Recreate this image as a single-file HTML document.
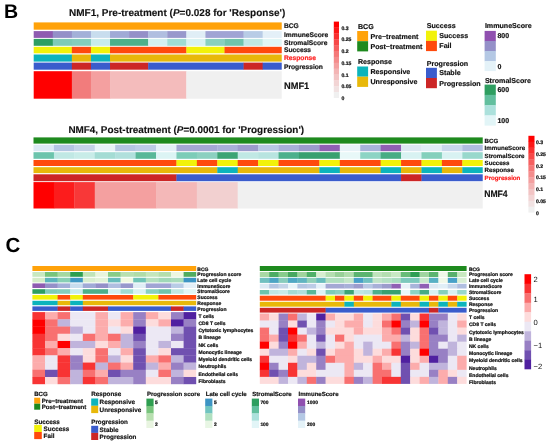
<!DOCTYPE html>
<html><head><meta charset="utf-8"><title>Figure</title>
<style>
html,body{margin:0;padding:0;background:#fff;}
body{width:550px;height:445px;overflow:hidden;}
svg{display:block;font-family:"Liberation Sans",sans-serif;}
</style></head><body>
<svg width="550" height="445" viewBox="0 0 550 445" text-rendering="geometricPrecision">
<rect x="0" y="0" width="550" height="445" fill="#ffffff"/>
<text x="3.90" y="17.80" font-size="19.6" font-weight="bold" fill="#000" text-anchor="start">B</text>
<text x="69.00" y="15.50" font-size="10.0" font-weight="bold" fill="#111111" text-anchor="start" stroke="#111111" stroke-width="0.12">NMF1, Pre-treatment (<tspan font-style="italic">P</tspan>=0.028 for 'Response')</text>
<rect x="33.70" y="22.40" width="248.04" height="7.30" fill="#FFA20A"/>
<rect x="33.70" y="31.10" width="19.38" height="6.80" fill="#8E5BB0"/>
<rect x="52.78" y="31.10" width="19.38" height="6.80" fill="#9490C8"/>
<rect x="71.86" y="31.10" width="19.38" height="6.80" fill="#A3B0D8"/>
<rect x="90.94" y="31.10" width="19.38" height="6.80" fill="#C8DDEE"/>
<rect x="110.02" y="31.10" width="19.38" height="6.80" fill="#A0AAD6"/>
<rect x="129.10" y="31.10" width="19.38" height="6.80" fill="#9490C8"/>
<rect x="148.18" y="31.10" width="19.38" height="6.80" fill="#B0BEE0"/>
<rect x="167.26" y="31.10" width="19.38" height="6.80" fill="#9898CC"/>
<rect x="186.34" y="31.10" width="19.38" height="6.80" fill="#E0EEF6"/>
<rect x="205.42" y="31.10" width="38.46" height="6.80" fill="#A0A4D4"/>
<rect x="243.58" y="31.10" width="19.38" height="6.80" fill="#B8CCE6"/>
<rect x="262.66" y="31.10" width="19.08" height="6.80" fill="#E4F0F8"/>
<rect x="33.70" y="38.90" width="19.38" height="6.90" fill="#2E9E62"/>
<rect x="52.78" y="38.90" width="19.38" height="6.90" fill="#7FCBB8"/>
<rect x="71.86" y="38.90" width="19.38" height="6.90" fill="#84CEBC"/>
<rect x="90.94" y="38.90" width="19.38" height="6.90" fill="#C8ECEC"/>
<rect x="110.02" y="38.90" width="38.46" height="6.90" fill="#4DB08A"/>
<rect x="148.18" y="38.90" width="19.38" height="6.90" fill="#D4F0F0"/>
<rect x="167.26" y="38.90" width="19.38" height="6.90" fill="#A0DCD4"/>
<rect x="186.34" y="38.90" width="19.38" height="6.90" fill="#D8F2F2"/>
<rect x="205.42" y="38.90" width="19.38" height="6.90" fill="#88D0C0"/>
<rect x="224.50" y="38.90" width="19.38" height="6.90" fill="#70C4AC"/>
<rect x="243.58" y="38.90" width="19.38" height="6.90" fill="#C0E8E4"/>
<rect x="262.66" y="38.90" width="19.08" height="6.90" fill="#E0F6F6"/>
<rect x="33.70" y="46.80" width="38.46" height="6.50" fill="#F2F20A"/>
<rect x="71.86" y="46.80" width="19.38" height="6.50" fill="#FF4A0C"/>
<rect x="90.94" y="46.80" width="19.38" height="6.50" fill="#F2F20A"/>
<rect x="110.02" y="46.80" width="76.62" height="6.50" fill="#FF4A0C"/>
<rect x="186.34" y="46.80" width="38.46" height="6.50" fill="#F2F20A"/>
<rect x="224.50" y="46.80" width="57.24" height="6.50" fill="#FF4A0C"/>
<rect x="33.70" y="54.50" width="38.46" height="7.10" fill="#0CB4BC"/>
<rect x="71.86" y="54.50" width="19.38" height="7.10" fill="#E8B80A"/>
<rect x="90.94" y="54.50" width="19.38" height="7.10" fill="#0CB4BC"/>
<rect x="110.02" y="54.50" width="171.72" height="7.10" fill="#E8B80A"/>
<rect x="33.70" y="62.60" width="38.46" height="7.10" fill="#3A5CCC"/>
<rect x="71.86" y="62.60" width="19.38" height="7.10" fill="#CC2626"/>
<rect x="90.94" y="62.60" width="19.38" height="7.10" fill="#3A5CCC"/>
<rect x="110.02" y="62.60" width="38.46" height="7.10" fill="#CC2626"/>
<rect x="148.18" y="62.60" width="95.70" height="7.10" fill="#3A5CCC"/>
<rect x="243.58" y="62.60" width="19.38" height="7.10" fill="#CC2626"/>
<rect x="262.66" y="62.60" width="19.08" height="7.10" fill="#3A5CCC"/>
<rect x="33.70" y="71.20" width="38.46" height="27.50" fill="#FF0000"/>
<rect x="71.86" y="71.20" width="19.38" height="27.50" fill="#F27C7C"/>
<rect x="90.94" y="71.20" width="19.38" height="27.50" fill="#F4A0A0"/>
<rect x="110.02" y="71.20" width="76.62" height="27.50" fill="#F4BCBC"/>
<rect x="186.34" y="71.20" width="95.40" height="27.50" fill="#F0F0F0"/>
<text x="283.94" y="28.45" font-size="6.7" font-weight="bold" fill="#111111" text-anchor="start" stroke="#111111" stroke-width="0.18">BCG</text>
<text x="283.94" y="36.90" font-size="6.7" font-weight="bold" fill="#111111" text-anchor="start" stroke="#111111" stroke-width="0.18">ImmuneScore</text>
<text x="283.94" y="44.75" font-size="6.7" font-weight="bold" fill="#111111" text-anchor="start" stroke="#111111" stroke-width="0.18">StromalScore</text>
<text x="283.94" y="52.45" font-size="6.7" font-weight="bold" fill="#111111" text-anchor="start" stroke="#111111" stroke-width="0.18">Success</text>
<text x="283.94" y="60.45" font-size="6.7" font-weight="bold" fill="#ff1a1a" text-anchor="start" stroke="#ff1a1a" stroke-width="0.18">Response</text>
<text x="283.94" y="68.55" font-size="6.7" font-weight="bold" fill="#111111" text-anchor="start" stroke="#111111" stroke-width="0.18">Progression</text>
<text x="283.94" y="89.30" font-size="9.3" font-weight="bold" fill="#111111" text-anchor="start" stroke="#111111" stroke-width="0.12">NMF1</text>
<rect x="333.80" y="21.60" width="5.20" height="6.18" fill="#FF0000"/>
<rect x="333.80" y="27.48" width="5.20" height="6.18" fill="#FB1818"/>
<rect x="333.80" y="33.35" width="5.20" height="6.18" fill="#F93030"/>
<rect x="333.80" y="39.23" width="5.20" height="6.18" fill="#F74848"/>
<rect x="333.80" y="45.11" width="5.20" height="6.18" fill="#F66060"/>
<rect x="333.80" y="50.98" width="5.20" height="6.18" fill="#F57878"/>
<rect x="333.80" y="56.86" width="5.20" height="6.18" fill="#F48C8C"/>
<rect x="333.80" y="62.74" width="5.20" height="6.18" fill="#F4A0A0"/>
<rect x="333.80" y="68.62" width="5.20" height="6.18" fill="#F3B4B4"/>
<rect x="333.80" y="74.49" width="5.20" height="6.18" fill="#F2C4C4"/>
<rect x="333.80" y="80.37" width="5.20" height="6.18" fill="#F2D4D4"/>
<rect x="333.80" y="86.25" width="5.20" height="6.18" fill="#F1E2E2"/>
<rect x="333.80" y="92.12" width="5.20" height="5.88" fill="#F0F0F0"/>
<text x="341.50" y="29.70" font-size="5.1" font-weight="bold" fill="#111111" text-anchor="start" stroke="#111111" stroke-width="0.22">0.3</text>
<text x="341.50" y="41.45" font-size="5.1" font-weight="bold" fill="#111111" text-anchor="start" stroke="#111111" stroke-width="0.22">0.25</text>
<text x="341.50" y="53.20" font-size="5.1" font-weight="bold" fill="#111111" text-anchor="start" stroke="#111111" stroke-width="0.22">0.2</text>
<text x="341.50" y="64.95" font-size="5.1" font-weight="bold" fill="#111111" text-anchor="start" stroke="#111111" stroke-width="0.22">0.15</text>
<text x="341.50" y="76.70" font-size="5.1" font-weight="bold" fill="#111111" text-anchor="start" stroke="#111111" stroke-width="0.22">0.1</text>
<text x="341.50" y="88.45" font-size="5.1" font-weight="bold" fill="#111111" text-anchor="start" stroke="#111111" stroke-width="0.22">0.05</text>
<text x="341.50" y="100.20" font-size="5.1" font-weight="bold" fill="#111111" text-anchor="start" stroke="#111111" stroke-width="0.22">0</text>
<text x="358.00" y="28.70" font-size="7.1" font-weight="bold" fill="#111111" text-anchor="start" stroke="#111111" stroke-width="0.18">BCG</text>
<rect x="357.20" y="31.00" width="10.90" height="10.20" fill="#FFA20A"/>
<text x="370.50" y="38.55" font-size="7.1" font-weight="bold" fill="#111111" text-anchor="start" stroke="#111111" stroke-width="0.18">Pre−treatment</text>
<rect x="357.20" y="41.20" width="10.90" height="10.20" fill="#1E8A1E"/>
<text x="370.50" y="48.75" font-size="7.1" font-weight="bold" fill="#111111" text-anchor="start" stroke="#111111" stroke-width="0.18">Post−treatment</text>
<text x="358.00" y="64.20" font-size="7.1" font-weight="bold" fill="#111111" text-anchor="start" stroke="#111111" stroke-width="0.18">Response</text>
<rect x="357.20" y="66.50" width="10.90" height="10.20" fill="#0CB4BC"/>
<text x="370.50" y="74.05" font-size="7.1" font-weight="bold" fill="#111111" text-anchor="start" stroke="#111111" stroke-width="0.18">Responsive</text>
<rect x="357.20" y="76.70" width="10.90" height="10.20" fill="#E8B80A"/>
<text x="370.50" y="84.25" font-size="7.1" font-weight="bold" fill="#111111" text-anchor="start" stroke="#111111" stroke-width="0.18">Unresponsive</text>
<text x="426.80" y="28.40" font-size="7.1" font-weight="bold" fill="#111111" text-anchor="start" stroke="#111111" stroke-width="0.18">Success</text>
<rect x="426.00" y="30.70" width="10.90" height="10.20" fill="#F2F20A"/>
<text x="439.30" y="38.25" font-size="7.1" font-weight="bold" fill="#111111" text-anchor="start" stroke="#111111" stroke-width="0.18">Success</text>
<rect x="426.00" y="40.90" width="10.90" height="10.20" fill="#FF4A0C"/>
<text x="439.30" y="48.45" font-size="7.1" font-weight="bold" fill="#111111" text-anchor="start" stroke="#111111" stroke-width="0.18">Fail</text>
<text x="426.80" y="65.50" font-size="7.1" font-weight="bold" fill="#111111" text-anchor="start" stroke="#111111" stroke-width="0.18">Progression</text>
<rect x="426.00" y="67.80" width="10.90" height="10.20" fill="#3A5CCC"/>
<text x="439.30" y="75.35" font-size="7.1" font-weight="bold" fill="#111111" text-anchor="start" stroke="#111111" stroke-width="0.18">Stable</text>
<rect x="426.00" y="78.00" width="10.90" height="10.20" fill="#CC2626"/>
<text x="439.30" y="85.55" font-size="7.1" font-weight="bold" fill="#111111" text-anchor="start" stroke="#111111" stroke-width="0.18">Progression</text>
<text x="484.90" y="28.30" font-size="7.1" font-weight="bold" fill="#111111" text-anchor="start" stroke="#111111" stroke-width="0.18">ImmuneScore</text>
<rect x="484.60" y="30.90" width="11.20" height="10.35" fill="#9050B0"/>
<rect x="484.60" y="40.95" width="11.20" height="10.35" fill="#9490C8"/>
<rect x="484.60" y="51.00" width="11.20" height="10.35" fill="#B4C8E4"/>
<rect x="484.60" y="61.05" width="11.20" height="10.05" fill="#E4F2F8"/>
<text x="497.40" y="38.45" font-size="7.0" font-weight="bold" fill="#111111" text-anchor="start" stroke="#111111" stroke-width="0.18">800</text>
<text x="497.40" y="68.59" font-size="7.0" font-weight="bold" fill="#111111" text-anchor="start" stroke="#111111" stroke-width="0.18">0</text>
<text x="484.90" y="82.90" font-size="7.1" font-weight="bold" fill="#111111" text-anchor="start" stroke="#111111" stroke-width="0.18">StromalScore</text>
<rect x="484.60" y="84.60" width="11.20" height="10.55" fill="#2E9E60"/>
<rect x="484.60" y="94.85" width="11.20" height="10.55" fill="#62BF9E"/>
<rect x="484.60" y="105.10" width="11.20" height="10.55" fill="#ACE1DC"/>
<rect x="484.60" y="115.35" width="11.20" height="10.25" fill="#E2F5F7"/>
<text x="497.40" y="92.24" font-size="7.0" font-weight="bold" fill="#111111" text-anchor="start" stroke="#111111" stroke-width="0.18">600</text>
<text x="497.40" y="122.99" font-size="7.0" font-weight="bold" fill="#111111" text-anchor="start" stroke="#111111" stroke-width="0.18">100</text>
<text x="68.40" y="133.20" font-size="9.92" font-weight="bold" fill="#111111" text-anchor="start" stroke="#111111" stroke-width="0.12">NMF4, Post-treatment (<tspan font-style="italic">P</tspan>=0.0001 for 'Progression')</text>
<rect x="33.50" y="137.40" width="449.24" height="6.20" fill="#1E8A1E"/>
<rect x="33.50" y="144.80" width="20.72" height="6.40" fill="#DCEAF4"/>
<rect x="53.92" y="144.80" width="20.72" height="6.40" fill="#B4C6E2"/>
<rect x="74.34" y="144.80" width="20.72" height="6.40" fill="#C4D4E8"/>
<rect x="94.76" y="144.80" width="20.72" height="6.40" fill="#E8F4F8"/>
<rect x="115.18" y="144.80" width="20.72" height="6.40" fill="#B4C6E2"/>
<rect x="135.60" y="144.80" width="20.72" height="6.40" fill="#BCCCE6"/>
<rect x="156.02" y="144.80" width="20.72" height="6.40" fill="#E4F0F8"/>
<rect x="176.44" y="144.80" width="41.14" height="6.40" fill="#A4A8D4"/>
<rect x="217.28" y="144.80" width="20.72" height="6.40" fill="#A8B0D8"/>
<rect x="237.70" y="144.80" width="20.72" height="6.40" fill="#9C9CCC"/>
<rect x="258.12" y="144.80" width="20.72" height="6.40" fill="#B8C8E4"/>
<rect x="278.54" y="144.80" width="20.72" height="6.40" fill="#A8B0D8"/>
<rect x="298.96" y="144.80" width="20.72" height="6.40" fill="#9C9CCC"/>
<rect x="319.38" y="144.80" width="20.72" height="6.40" fill="#9060B4"/>
<rect x="339.80" y="144.80" width="20.72" height="6.40" fill="#E8F2F8"/>
<rect x="360.22" y="144.80" width="20.72" height="6.40" fill="#A8B4DA"/>
<rect x="380.64" y="144.80" width="20.72" height="6.40" fill="#9060B4"/>
<rect x="401.06" y="144.80" width="20.72" height="6.40" fill="#DCE8F2"/>
<rect x="421.48" y="144.80" width="20.72" height="6.40" fill="#E0EEF6"/>
<rect x="441.90" y="144.80" width="20.72" height="6.40" fill="#C8D8EC"/>
<rect x="462.32" y="144.80" width="20.42" height="6.40" fill="#B0BEE0"/>
<rect x="33.50" y="152.20" width="20.72" height="6.60" fill="#6CC4AC"/>
<rect x="53.92" y="152.20" width="20.72" height="6.60" fill="#C0E8E4"/>
<rect x="74.34" y="152.20" width="20.72" height="6.60" fill="#C8ECE8"/>
<rect x="94.76" y="152.20" width="20.72" height="6.60" fill="#A4DCD4"/>
<rect x="115.18" y="152.20" width="20.72" height="6.60" fill="#B0E0DC"/>
<rect x="135.60" y="152.20" width="20.72" height="6.60" fill="#58B898"/>
<rect x="156.02" y="152.20" width="20.72" height="6.60" fill="#DCF4F4"/>
<rect x="176.44" y="152.20" width="20.72" height="6.60" fill="#7CCCB8"/>
<rect x="196.86" y="152.20" width="20.72" height="6.60" fill="#8CD0C0"/>
<rect x="217.28" y="152.20" width="20.72" height="6.60" fill="#3CA474"/>
<rect x="237.70" y="152.20" width="20.72" height="6.60" fill="#C0E8E4"/>
<rect x="258.12" y="152.20" width="20.72" height="6.60" fill="#B8E4E0"/>
<rect x="278.54" y="152.20" width="20.72" height="6.60" fill="#4CB08C"/>
<rect x="298.96" y="152.20" width="41.14" height="6.60" fill="#38A070"/>
<rect x="339.80" y="152.20" width="20.72" height="6.60" fill="#E8F8F8"/>
<rect x="360.22" y="152.20" width="20.72" height="6.60" fill="#8CD4C4"/>
<rect x="380.64" y="152.20" width="20.72" height="6.60" fill="#48AC84"/>
<rect x="401.06" y="152.20" width="20.72" height="6.60" fill="#D8F2F2"/>
<rect x="421.48" y="152.20" width="20.72" height="6.60" fill="#84D0BC"/>
<rect x="441.90" y="152.20" width="20.72" height="6.60" fill="#D8F2F2"/>
<rect x="462.32" y="152.20" width="20.42" height="6.60" fill="#98D8CC"/>
<rect x="33.50" y="160.00" width="143.24" height="6.00" fill="#FF4A0C"/>
<rect x="176.44" y="160.00" width="20.72" height="6.00" fill="#F2F20A"/>
<rect x="196.86" y="160.00" width="20.72" height="6.00" fill="#FF4A0C"/>
<rect x="217.28" y="160.00" width="20.72" height="6.00" fill="#F2F20A"/>
<rect x="237.70" y="160.00" width="20.72" height="6.00" fill="#FF4A0C"/>
<rect x="258.12" y="160.00" width="20.72" height="6.00" fill="#F2F20A"/>
<rect x="278.54" y="160.00" width="41.14" height="6.00" fill="#FF4A0C"/>
<rect x="319.38" y="160.00" width="20.72" height="6.00" fill="#F2F20A"/>
<rect x="339.80" y="160.00" width="41.14" height="6.00" fill="#FF4A0C"/>
<rect x="380.64" y="160.00" width="20.72" height="6.00" fill="#F2F20A"/>
<rect x="401.06" y="160.00" width="20.72" height="6.00" fill="#FF4A0C"/>
<rect x="421.48" y="160.00" width="20.72" height="6.00" fill="#F2F20A"/>
<rect x="441.90" y="160.00" width="20.72" height="6.00" fill="#FF4A0C"/>
<rect x="462.32" y="160.00" width="20.42" height="6.00" fill="#F2F20A"/>
<rect x="33.50" y="167.20" width="184.08" height="5.90" fill="#E8B80A"/>
<rect x="217.28" y="167.20" width="20.72" height="5.90" fill="#0CB4BC"/>
<rect x="237.70" y="167.20" width="81.98" height="5.90" fill="#E8B80A"/>
<rect x="319.38" y="167.20" width="20.72" height="5.90" fill="#0CB4BC"/>
<rect x="339.80" y="167.20" width="41.14" height="5.90" fill="#E8B80A"/>
<rect x="380.64" y="167.20" width="20.72" height="5.90" fill="#0CB4BC"/>
<rect x="401.06" y="167.20" width="20.72" height="5.90" fill="#E8B80A"/>
<rect x="421.48" y="167.20" width="20.72" height="5.90" fill="#0CB4BC"/>
<rect x="441.90" y="167.20" width="20.72" height="5.90" fill="#E8B80A"/>
<rect x="462.32" y="167.20" width="20.42" height="5.90" fill="#0CB4BC"/>
<rect x="33.50" y="174.30" width="143.24" height="6.90" fill="#CC2626"/>
<rect x="176.44" y="174.30" width="224.92" height="6.90" fill="#3A5CCC"/>
<rect x="401.06" y="174.30" width="20.72" height="6.90" fill="#CC2626"/>
<rect x="421.48" y="174.30" width="61.26" height="6.90" fill="#3A5CCC"/>
<rect x="33.50" y="182.10" width="20.72" height="26.40" fill="#FF0000"/>
<rect x="53.92" y="182.10" width="20.72" height="26.40" fill="#FC1C1C"/>
<rect x="74.34" y="182.10" width="20.72" height="26.40" fill="#F83838"/>
<rect x="94.76" y="182.10" width="61.56" height="26.40" fill="#F4A0A0"/>
<rect x="156.02" y="182.10" width="41.14" height="26.40" fill="#F4B8B8"/>
<rect x="196.86" y="182.10" width="41.14" height="26.40" fill="#F2D0D0"/>
<rect x="237.70" y="182.10" width="245.04" height="26.40" fill="#F0F0F0"/>
<text x="484.54" y="142.80" font-size="6.15" font-weight="bold" fill="#111111" text-anchor="start" stroke="#111111" stroke-width="0.18">BCG</text>
<text x="484.54" y="150.30" font-size="6.15" font-weight="bold" fill="#111111" text-anchor="start" stroke="#111111" stroke-width="0.18">ImmuneScore</text>
<text x="484.54" y="157.80" font-size="6.15" font-weight="bold" fill="#111111" text-anchor="start" stroke="#111111" stroke-width="0.18">StromalScore</text>
<text x="484.54" y="165.30" font-size="6.15" font-weight="bold" fill="#111111" text-anchor="start" stroke="#111111" stroke-width="0.18">Success</text>
<text x="484.54" y="172.45" font-size="6.15" font-weight="bold" fill="#111111" text-anchor="start" stroke="#111111" stroke-width="0.18">Response</text>
<text x="484.54" y="180.05" font-size="6.15" font-weight="bold" fill="#ff1a1a" text-anchor="start" stroke="#ff1a1a" stroke-width="0.18">Progression</text>
<text transform="translate(484.14,197) scale(0.93,1)" font-size="9.3" font-weight="bold" fill="#111111" stroke="#111111" stroke-width="0.12">NMF4</text>
<rect x="528.40" y="135.80" width="6.10" height="6.21" fill="#FF0000"/>
<rect x="528.40" y="141.71" width="6.10" height="6.21" fill="#FB1818"/>
<rect x="528.40" y="147.62" width="6.10" height="6.21" fill="#F93030"/>
<rect x="528.40" y="153.52" width="6.10" height="6.21" fill="#F74848"/>
<rect x="528.40" y="159.43" width="6.10" height="6.21" fill="#F66060"/>
<rect x="528.40" y="165.34" width="6.10" height="6.21" fill="#F57878"/>
<rect x="528.40" y="171.25" width="6.10" height="6.21" fill="#F48C8C"/>
<rect x="528.40" y="177.15" width="6.10" height="6.21" fill="#F4A0A0"/>
<rect x="528.40" y="183.06" width="6.10" height="6.21" fill="#F3B4B4"/>
<rect x="528.40" y="188.97" width="6.10" height="6.21" fill="#F2C4C4"/>
<rect x="528.40" y="194.88" width="6.10" height="6.21" fill="#F2D4D4"/>
<rect x="528.40" y="200.78" width="6.10" height="6.21" fill="#F1E2E2"/>
<rect x="528.40" y="206.69" width="6.10" height="5.91" fill="#F0F0F0"/>
<text x="536.00" y="144.30" font-size="5.1" font-weight="bold" fill="#111111" text-anchor="start" stroke="#111111" stroke-width="0.22">0.3</text>
<text x="536.00" y="156.00" font-size="5.1" font-weight="bold" fill="#111111" text-anchor="start" stroke="#111111" stroke-width="0.22">0.25</text>
<text x="536.00" y="167.70" font-size="5.1" font-weight="bold" fill="#111111" text-anchor="start" stroke="#111111" stroke-width="0.22">0.2</text>
<text x="536.00" y="179.40" font-size="5.1" font-weight="bold" fill="#111111" text-anchor="start" stroke="#111111" stroke-width="0.22">0.15</text>
<text x="536.00" y="191.10" font-size="5.1" font-weight="bold" fill="#111111" text-anchor="start" stroke="#111111" stroke-width="0.22">0.1</text>
<text x="536.00" y="202.80" font-size="5.1" font-weight="bold" fill="#111111" text-anchor="start" stroke="#111111" stroke-width="0.22">0.05</text>
<text x="536.00" y="214.50" font-size="5.1" font-weight="bold" fill="#111111" text-anchor="start" stroke="#111111" stroke-width="0.22">0</text>
<text x="5.40" y="252.30" font-size="20.5" font-weight="bold" fill="#000" text-anchor="start">C</text>
<rect x="32.40" y="266.00" width="163.80" height="5.00" fill="#FFA20A"/>
<rect x="32.40" y="272.00" width="12.90" height="4.80" fill="#C8E8C0"/>
<rect x="45.00" y="272.00" width="12.90" height="4.80" fill="#78C47C"/>
<rect x="57.60" y="272.00" width="12.90" height="4.80" fill="#A4D8A0"/>
<rect x="70.20" y="272.00" width="12.90" height="4.80" fill="#2E9E50"/>
<rect x="82.80" y="272.00" width="12.90" height="4.80" fill="#C0E4B8"/>
<rect x="95.40" y="272.00" width="12.90" height="4.80" fill="#E8F4DC"/>
<rect x="108.00" y="272.00" width="12.90" height="4.80" fill="#88CC88"/>
<rect x="120.60" y="272.00" width="12.90" height="4.80" fill="#B8E0B0"/>
<rect x="133.20" y="272.00" width="12.90" height="4.80" fill="#B0DCA8"/>
<rect x="145.80" y="272.00" width="12.90" height="4.80" fill="#C4E6BC"/>
<rect x="158.40" y="272.00" width="12.90" height="4.80" fill="#B4DEAC"/>
<rect x="171.00" y="272.00" width="12.90" height="4.80" fill="#ECF6E0"/>
<rect x="183.60" y="272.00" width="12.60" height="4.80" fill="#50AC60"/>
<rect x="32.40" y="277.80" width="12.90" height="4.60" fill="#D4ECC8"/>
<rect x="45.00" y="277.80" width="12.90" height="4.60" fill="#5CB4BC"/>
<rect x="57.60" y="277.80" width="12.90" height="4.60" fill="#88D0B4"/>
<rect x="70.20" y="277.80" width="12.90" height="4.60" fill="#4098C4"/>
<rect x="82.80" y="277.80" width="12.90" height="4.60" fill="#D8EED0"/>
<rect x="95.40" y="277.80" width="12.90" height="4.60" fill="#E0F2D8"/>
<rect x="108.00" y="277.80" width="12.90" height="4.60" fill="#68BCBC"/>
<rect x="120.60" y="277.80" width="12.90" height="4.60" fill="#F0F8E0"/>
<rect x="133.20" y="277.80" width="12.90" height="4.60" fill="#70C4B8"/>
<rect x="145.80" y="277.80" width="12.90" height="4.60" fill="#B4E0C0"/>
<rect x="158.40" y="277.80" width="12.90" height="4.60" fill="#A0D8B8"/>
<rect x="171.00" y="277.80" width="12.90" height="4.60" fill="#A8DCBC"/>
<rect x="183.60" y="277.80" width="12.60" height="4.60" fill="#3C94C4"/>
<rect x="32.40" y="283.40" width="12.90" height="4.60" fill="#8E5BB0"/>
<rect x="45.00" y="283.40" width="12.90" height="4.60" fill="#9490C8"/>
<rect x="57.60" y="283.40" width="12.90" height="4.60" fill="#A3B0D8"/>
<rect x="70.20" y="283.40" width="12.90" height="4.60" fill="#C8DDEE"/>
<rect x="82.80" y="283.40" width="12.90" height="4.60" fill="#A0AAD6"/>
<rect x="95.40" y="283.40" width="12.90" height="4.60" fill="#9490C8"/>
<rect x="108.00" y="283.40" width="12.90" height="4.60" fill="#B0BEE0"/>
<rect x="120.60" y="283.40" width="12.90" height="4.60" fill="#9898CC"/>
<rect x="133.20" y="283.40" width="12.90" height="4.60" fill="#E0EEF6"/>
<rect x="145.80" y="283.40" width="25.50" height="4.60" fill="#A0A4D4"/>
<rect x="171.00" y="283.40" width="12.90" height="4.60" fill="#B8CCE6"/>
<rect x="183.60" y="283.40" width="12.60" height="4.60" fill="#E4F0F8"/>
<rect x="32.40" y="289.20" width="12.90" height="4.60" fill="#2E9E62"/>
<rect x="45.00" y="289.20" width="12.90" height="4.60" fill="#7FCBB8"/>
<rect x="57.60" y="289.20" width="12.90" height="4.60" fill="#84CEBC"/>
<rect x="70.20" y="289.20" width="12.90" height="4.60" fill="#C8ECEC"/>
<rect x="82.80" y="289.20" width="25.50" height="4.60" fill="#4DB08A"/>
<rect x="108.00" y="289.20" width="12.90" height="4.60" fill="#D4F0F0"/>
<rect x="120.60" y="289.20" width="12.90" height="4.60" fill="#A0DCD4"/>
<rect x="133.20" y="289.20" width="12.90" height="4.60" fill="#D8F2F2"/>
<rect x="145.80" y="289.20" width="12.90" height="4.60" fill="#88D0C0"/>
<rect x="158.40" y="289.20" width="12.90" height="4.60" fill="#70C4AC"/>
<rect x="171.00" y="289.20" width="12.90" height="4.60" fill="#C0E8E4"/>
<rect x="183.60" y="289.20" width="12.60" height="4.60" fill="#E0F6F6"/>
<rect x="32.40" y="295.00" width="25.50" height="4.60" fill="#F2F20A"/>
<rect x="57.60" y="295.00" width="12.90" height="4.60" fill="#FF4A0C"/>
<rect x="70.20" y="295.00" width="12.90" height="4.60" fill="#F2F20A"/>
<rect x="82.80" y="295.00" width="50.70" height="4.60" fill="#FF4A0C"/>
<rect x="133.20" y="295.00" width="25.50" height="4.60" fill="#F2F20A"/>
<rect x="158.40" y="295.00" width="37.80" height="4.60" fill="#FF4A0C"/>
<rect x="32.40" y="300.80" width="25.50" height="4.40" fill="#0CB4BC"/>
<rect x="57.60" y="300.80" width="12.90" height="4.40" fill="#E8B80A"/>
<rect x="70.20" y="300.80" width="12.90" height="4.40" fill="#0CB4BC"/>
<rect x="82.80" y="300.80" width="113.40" height="4.40" fill="#E8B80A"/>
<rect x="32.40" y="306.40" width="25.50" height="4.50" fill="#3A5CCC"/>
<rect x="57.60" y="306.40" width="12.90" height="4.50" fill="#CC2626"/>
<rect x="70.20" y="306.40" width="12.90" height="4.50" fill="#3A5CCC"/>
<rect x="82.80" y="306.40" width="25.50" height="4.50" fill="#CC2626"/>
<rect x="108.00" y="306.40" width="63.30" height="4.50" fill="#3A5CCC"/>
<rect x="171.00" y="306.40" width="12.90" height="4.50" fill="#CC2626"/>
<rect x="183.60" y="306.40" width="12.60" height="4.50" fill="#3A5CCC"/>
<rect x="32.40" y="312.10" width="12.90" height="7.51" fill="#F83434"/>
<rect x="45.00" y="312.10" width="12.90" height="7.51" fill="#FCACAC"/>
<rect x="57.60" y="312.10" width="12.90" height="7.51" fill="#F87070"/>
<rect x="70.20" y="312.10" width="25.50" height="7.51" fill="#ECE8F4"/>
<rect x="95.40" y="312.10" width="12.90" height="7.51" fill="#FCACAC"/>
<rect x="108.00" y="312.10" width="12.90" height="7.51" fill="#ECE8F4"/>
<rect x="120.60" y="312.10" width="12.90" height="7.51" fill="#FCACAC"/>
<rect x="133.20" y="312.10" width="12.90" height="7.51" fill="#9880C4"/>
<rect x="145.80" y="312.10" width="12.90" height="7.51" fill="#FCACAC"/>
<rect x="158.40" y="312.10" width="12.90" height="7.51" fill="#FDDCDC"/>
<rect x="171.00" y="312.10" width="12.90" height="7.51" fill="#9880C4"/>
<rect x="183.60" y="312.10" width="12.60" height="7.51" fill="#5020A0"/>
<rect x="32.40" y="319.31" width="12.90" height="7.51" fill="#FF0000"/>
<rect x="45.00" y="319.31" width="12.90" height="7.51" fill="#F87070"/>
<rect x="57.60" y="319.31" width="12.90" height="7.51" fill="#C0B4DC"/>
<rect x="70.20" y="319.31" width="25.50" height="7.51" fill="#ECE8F4"/>
<rect x="95.40" y="319.31" width="12.90" height="7.51" fill="#FCACAC"/>
<rect x="108.00" y="319.31" width="12.90" height="7.51" fill="#FDDCDC"/>
<rect x="120.60" y="319.31" width="12.90" height="7.51" fill="#FCACAC"/>
<rect x="133.20" y="319.31" width="12.90" height="7.51" fill="#9880C4"/>
<rect x="145.80" y="319.31" width="12.90" height="7.51" fill="#FDDCDC"/>
<rect x="158.40" y="319.31" width="12.90" height="7.51" fill="#FCACAC"/>
<rect x="171.00" y="319.31" width="12.90" height="7.51" fill="#5020A0"/>
<rect x="183.60" y="319.31" width="12.60" height="7.51" fill="#9880C4"/>
<rect x="32.40" y="326.52" width="12.90" height="7.51" fill="#FF0000"/>
<rect x="45.00" y="326.52" width="25.50" height="7.51" fill="#F87070"/>
<rect x="70.20" y="326.52" width="12.90" height="7.51" fill="#C0B4DC"/>
<rect x="82.80" y="326.52" width="12.90" height="7.51" fill="#ECE8F4"/>
<rect x="95.40" y="326.52" width="12.90" height="7.51" fill="#FCACAC"/>
<rect x="108.00" y="326.52" width="12.90" height="7.51" fill="#ECE8F4"/>
<rect x="120.60" y="326.52" width="12.90" height="7.51" fill="#FDDCDC"/>
<rect x="133.20" y="326.52" width="12.90" height="7.51" fill="#5020A0"/>
<rect x="145.80" y="326.52" width="25.50" height="7.51" fill="#ECE8F4"/>
<rect x="171.00" y="326.52" width="12.90" height="7.51" fill="#C0B4DC"/>
<rect x="183.60" y="326.52" width="12.60" height="7.51" fill="#7050B0"/>
<rect x="32.40" y="333.73" width="12.90" height="7.51" fill="#F83434"/>
<rect x="45.00" y="333.73" width="12.90" height="7.51" fill="#F87070"/>
<rect x="57.60" y="333.73" width="12.90" height="7.51" fill="#FDDCDC"/>
<rect x="70.20" y="333.73" width="12.90" height="7.51" fill="#ECE8F4"/>
<rect x="82.80" y="333.73" width="12.90" height="7.51" fill="#F87070"/>
<rect x="95.40" y="333.73" width="12.90" height="7.51" fill="#FCACAC"/>
<rect x="108.00" y="333.73" width="12.90" height="7.51" fill="#F87070"/>
<rect x="120.60" y="333.73" width="12.90" height="7.51" fill="#C0B4DC"/>
<rect x="133.20" y="333.73" width="12.90" height="7.51" fill="#7050B0"/>
<rect x="145.80" y="333.73" width="25.50" height="7.51" fill="#ECE8F4"/>
<rect x="171.00" y="333.73" width="12.90" height="7.51" fill="#9880C4"/>
<rect x="183.60" y="333.73" width="12.60" height="7.51" fill="#7050B0"/>
<rect x="32.40" y="340.94" width="12.90" height="7.51" fill="#F83434"/>
<rect x="45.00" y="340.94" width="12.90" height="7.51" fill="#FCACAC"/>
<rect x="57.60" y="340.94" width="12.90" height="7.51" fill="#FF0000"/>
<rect x="70.20" y="340.94" width="25.50" height="7.51" fill="#C0B4DC"/>
<rect x="95.40" y="340.94" width="12.90" height="7.51" fill="#FDDCDC"/>
<rect x="108.00" y="340.94" width="12.90" height="7.51" fill="#FCACAC"/>
<rect x="120.60" y="340.94" width="12.90" height="7.51" fill="#C0B4DC"/>
<rect x="133.20" y="340.94" width="12.90" height="7.51" fill="#9880C4"/>
<rect x="145.80" y="340.94" width="12.90" height="7.51" fill="#ECE8F4"/>
<rect x="158.40" y="340.94" width="12.90" height="7.51" fill="#C0B4DC"/>
<rect x="171.00" y="340.94" width="12.90" height="7.51" fill="#ECE8F4"/>
<rect x="183.60" y="340.94" width="12.60" height="7.51" fill="#7050B0"/>
<rect x="32.40" y="348.15" width="12.90" height="7.51" fill="#F83434"/>
<rect x="45.00" y="348.15" width="12.90" height="7.51" fill="#F87070"/>
<rect x="57.60" y="348.15" width="12.90" height="7.51" fill="#FCACAC"/>
<rect x="70.20" y="348.15" width="12.90" height="7.51" fill="#ECE8F4"/>
<rect x="82.80" y="348.15" width="12.90" height="7.51" fill="#FDDCDC"/>
<rect x="95.40" y="348.15" width="12.90" height="7.51" fill="#F87070"/>
<rect x="108.00" y="348.15" width="12.90" height="7.51" fill="#ECE8F4"/>
<rect x="120.60" y="348.15" width="12.90" height="7.51" fill="#FCACAC"/>
<rect x="133.20" y="348.15" width="12.90" height="7.51" fill="#7050B0"/>
<rect x="145.80" y="348.15" width="12.90" height="7.51" fill="#ECE8F4"/>
<rect x="158.40" y="348.15" width="12.90" height="7.51" fill="#FDDCDC"/>
<rect x="171.00" y="348.15" width="25.20" height="7.51" fill="#7050B0"/>
<rect x="32.40" y="355.36" width="12.90" height="7.51" fill="#FCACAC"/>
<rect x="45.00" y="355.36" width="12.90" height="7.51" fill="#ECE8F4"/>
<rect x="57.60" y="355.36" width="12.90" height="7.51" fill="#F83434"/>
<rect x="70.20" y="355.36" width="12.90" height="7.51" fill="#9880C4"/>
<rect x="82.80" y="355.36" width="12.90" height="7.51" fill="#FDDCDC"/>
<rect x="95.40" y="355.36" width="12.90" height="7.51" fill="#F87070"/>
<rect x="108.00" y="355.36" width="12.90" height="7.51" fill="#C0B4DC"/>
<rect x="120.60" y="355.36" width="12.90" height="7.51" fill="#FDDCDC"/>
<rect x="133.20" y="355.36" width="12.90" height="7.51" fill="#7050B0"/>
<rect x="145.80" y="355.36" width="12.90" height="7.51" fill="#FCACAC"/>
<rect x="158.40" y="355.36" width="12.90" height="7.51" fill="#F87070"/>
<rect x="171.00" y="355.36" width="12.90" height="7.51" fill="#C0B4DC"/>
<rect x="183.60" y="355.36" width="12.60" height="7.51" fill="#7050B0"/>
<rect x="32.40" y="362.57" width="12.90" height="7.51" fill="#FCACAC"/>
<rect x="45.00" y="362.57" width="12.90" height="7.51" fill="#ECE8F4"/>
<rect x="57.60" y="362.57" width="12.90" height="7.51" fill="#F83434"/>
<rect x="70.20" y="362.57" width="12.90" height="7.51" fill="#9880C4"/>
<rect x="82.80" y="362.57" width="12.90" height="7.51" fill="#F83434"/>
<rect x="95.40" y="362.57" width="12.90" height="7.51" fill="#C0B4DC"/>
<rect x="108.00" y="362.57" width="12.90" height="7.51" fill="#F87070"/>
<rect x="120.60" y="362.57" width="12.90" height="7.51" fill="#FCACAC"/>
<rect x="133.20" y="362.57" width="12.90" height="7.51" fill="#7050B0"/>
<rect x="145.80" y="362.57" width="12.90" height="7.51" fill="#C0B4DC"/>
<rect x="158.40" y="362.57" width="12.90" height="7.51" fill="#FCACAC"/>
<rect x="171.00" y="362.57" width="12.90" height="7.51" fill="#9880C4"/>
<rect x="183.60" y="362.57" width="12.60" height="7.51" fill="#C0B4DC"/>
<rect x="32.40" y="369.78" width="12.90" height="7.51" fill="#F87070"/>
<rect x="45.00" y="369.78" width="12.90" height="7.51" fill="#7050B0"/>
<rect x="57.60" y="369.78" width="12.90" height="7.51" fill="#F83434"/>
<rect x="70.20" y="369.78" width="12.90" height="7.51" fill="#C0B4DC"/>
<rect x="82.80" y="369.78" width="12.90" height="7.51" fill="#F87070"/>
<rect x="95.40" y="369.78" width="12.90" height="7.51" fill="#FCACAC"/>
<rect x="108.00" y="369.78" width="12.90" height="7.51" fill="#7050B0"/>
<rect x="120.60" y="369.78" width="25.50" height="7.51" fill="#9880C4"/>
<rect x="145.80" y="369.78" width="12.90" height="7.51" fill="#ECE8F4"/>
<rect x="158.40" y="369.78" width="12.90" height="7.51" fill="#F87070"/>
<rect x="171.00" y="369.78" width="12.90" height="7.51" fill="#C0B4DC"/>
<rect x="183.60" y="369.78" width="12.60" height="7.51" fill="#FDDCDC"/>
<rect x="32.40" y="376.99" width="12.90" height="7.21" fill="#F83434"/>
<rect x="45.00" y="376.99" width="12.90" height="7.21" fill="#FDDCDC"/>
<rect x="57.60" y="376.99" width="12.90" height="7.21" fill="#F87070"/>
<rect x="70.20" y="376.99" width="12.90" height="7.21" fill="#C0B4DC"/>
<rect x="82.80" y="376.99" width="12.90" height="7.21" fill="#F83434"/>
<rect x="95.40" y="376.99" width="12.90" height="7.21" fill="#F87070"/>
<rect x="108.00" y="376.99" width="25.50" height="7.21" fill="#C0B4DC"/>
<rect x="133.20" y="376.99" width="12.90" height="7.21" fill="#9880C4"/>
<rect x="145.80" y="376.99" width="25.50" height="7.21" fill="#FDDCDC"/>
<rect x="171.00" y="376.99" width="12.90" height="7.21" fill="#9880C4"/>
<rect x="183.60" y="376.99" width="12.60" height="7.21" fill="#7050B0"/>
<text x="197.30" y="270.90" font-size="5.0" font-weight="bold" fill="#111111" text-anchor="start" stroke="#111111" stroke-width="0.22">BCG</text>
<text x="197.30" y="276.30" font-size="5.0" font-weight="bold" fill="#111111" text-anchor="start" stroke="#111111" stroke-width="0.22">Progression score</text>
<text x="197.30" y="282.00" font-size="5.0" font-weight="bold" fill="#111111" text-anchor="start" stroke="#111111" stroke-width="0.22">Late cell cycle</text>
<text x="197.30" y="287.60" font-size="5.0" font-weight="bold" fill="#111111" text-anchor="start" stroke="#111111" stroke-width="0.22">ImmuneScore</text>
<text x="197.30" y="293.40" font-size="5.0" font-weight="bold" fill="#111111" text-anchor="start" stroke="#111111" stroke-width="0.22">StromalScore</text>
<text x="197.30" y="299.20" font-size="5.0" font-weight="bold" fill="#111111" text-anchor="start" stroke="#111111" stroke-width="0.22">Success</text>
<text x="197.30" y="304.90" font-size="5.0" font-weight="bold" fill="#111111" text-anchor="start" stroke="#111111" stroke-width="0.22">Response</text>
<text x="197.30" y="310.55" font-size="5.0" font-weight="bold" fill="#111111" text-anchor="start" stroke="#111111" stroke-width="0.22">Progression</text>
<text x="198.50" y="317.51" font-size="5.0" font-weight="bold" fill="#111111" text-anchor="start" stroke="#111111" stroke-width="0.22">T cells</text>
<text x="198.50" y="324.79" font-size="5.0" font-weight="bold" fill="#111111" text-anchor="start" stroke="#111111" stroke-width="0.22">CD8 T cells</text>
<text x="198.50" y="332.07" font-size="5.0" font-weight="bold" fill="#111111" text-anchor="start" stroke="#111111" stroke-width="0.22">Cytotoxic lymphocytes</text>
<text x="198.50" y="339.35" font-size="5.0" font-weight="bold" fill="#111111" text-anchor="start" stroke="#111111" stroke-width="0.22">B lineage</text>
<text x="198.50" y="346.63" font-size="5.0" font-weight="bold" fill="#111111" text-anchor="start" stroke="#111111" stroke-width="0.22">NK cells</text>
<text x="198.50" y="353.91" font-size="5.0" font-weight="bold" fill="#111111" text-anchor="start" stroke="#111111" stroke-width="0.22">Monocytic lineage</text>
<text x="198.50" y="361.19" font-size="5.0" font-weight="bold" fill="#111111" text-anchor="start" stroke="#111111" stroke-width="0.22">Myeloid dendritic cells</text>
<text x="198.50" y="368.47" font-size="5.0" font-weight="bold" fill="#111111" text-anchor="start" stroke="#111111" stroke-width="0.22">Neutrophils</text>
<text x="198.50" y="375.75" font-size="5.0" font-weight="bold" fill="#111111" text-anchor="start" stroke="#111111" stroke-width="0.22">Endothelial cells</text>
<text x="198.50" y="383.03" font-size="5.0" font-weight="bold" fill="#111111" text-anchor="start" stroke="#111111" stroke-width="0.22">Fibroblasts</text>
<rect x="259.80" y="266.00" width="206.80" height="5.00" fill="#1E8A1E"/>
<rect x="259.80" y="272.00" width="9.70" height="5.00" fill="#A8D8A4"/>
<rect x="269.20" y="272.00" width="9.70" height="5.00" fill="#4CAC64"/>
<rect x="278.60" y="272.00" width="9.70" height="5.00" fill="#88CC8C"/>
<rect x="288.00" y="272.00" width="9.70" height="5.00" fill="#48A860"/>
<rect x="297.40" y="272.00" width="9.70" height="5.00" fill="#A0D49C"/>
<rect x="306.80" y="272.00" width="9.70" height="5.00" fill="#50B068"/>
<rect x="316.20" y="272.00" width="9.70" height="5.00" fill="#D8EED0"/>
<rect x="325.60" y="272.00" width="9.70" height="5.00" fill="#B4DEB0"/>
<rect x="335.00" y="272.00" width="9.70" height="5.00" fill="#98D098"/>
<rect x="344.40" y="272.00" width="9.70" height="5.00" fill="#B0DCAC"/>
<rect x="353.80" y="272.00" width="19.10" height="5.00" fill="#5CB470"/>
<rect x="372.60" y="272.00" width="9.70" height="5.00" fill="#C0E4BC"/>
<rect x="382.00" y="272.00" width="9.70" height="5.00" fill="#B4DEB0"/>
<rect x="391.40" y="272.00" width="9.70" height="5.00" fill="#C8E8C4"/>
<rect x="400.80" y="272.00" width="9.70" height="5.00" fill="#68BC78"/>
<rect x="410.20" y="272.00" width="9.70" height="5.00" fill="#2E9E54"/>
<rect x="419.60" y="272.00" width="9.70" height="5.00" fill="#A0D4A0"/>
<rect x="429.00" y="272.00" width="9.70" height="5.00" fill="#5CB470"/>
<rect x="438.40" y="272.00" width="9.70" height="5.00" fill="#F0F8E8"/>
<rect x="447.80" y="272.00" width="9.70" height="5.00" fill="#58B06C"/>
<rect x="457.20" y="272.00" width="9.40" height="5.00" fill="#C8E8C0"/>
<rect x="259.80" y="277.80" width="9.70" height="5.10" fill="#70C0C0"/>
<rect x="269.20" y="277.80" width="9.70" height="5.10" fill="#4CA4C4"/>
<rect x="278.60" y="277.80" width="9.70" height="5.10" fill="#88CCBC"/>
<rect x="288.00" y="277.80" width="9.70" height="5.10" fill="#50A8C4"/>
<rect x="297.40" y="277.80" width="9.70" height="5.10" fill="#60B4C0"/>
<rect x="306.80" y="277.80" width="9.70" height="5.10" fill="#90D0B8"/>
<rect x="316.20" y="277.80" width="9.70" height="5.10" fill="#68BCBC"/>
<rect x="325.60" y="277.80" width="19.10" height="5.10" fill="#B0DEC0"/>
<rect x="344.40" y="277.80" width="9.70" height="5.10" fill="#C4E6C8"/>
<rect x="353.80" y="277.80" width="9.70" height="5.10" fill="#48A0C8"/>
<rect x="363.20" y="277.80" width="9.70" height="5.10" fill="#70C0C0"/>
<rect x="372.60" y="277.80" width="9.70" height="5.10" fill="#C0E4C8"/>
<rect x="382.00" y="277.80" width="9.70" height="5.10" fill="#B4E0C4"/>
<rect x="391.40" y="277.80" width="9.70" height="5.10" fill="#A8DCC0"/>
<rect x="400.80" y="277.80" width="19.10" height="5.10" fill="#7CC8BC"/>
<rect x="419.60" y="277.80" width="9.70" height="5.10" fill="#C8E8CC"/>
<rect x="429.00" y="277.80" width="9.70" height="5.10" fill="#58B0C4"/>
<rect x="438.40" y="277.80" width="9.70" height="5.10" fill="#F0F8E8"/>
<rect x="447.80" y="277.80" width="9.70" height="5.10" fill="#48A0C8"/>
<rect x="457.20" y="277.80" width="9.40" height="5.10" fill="#D8EED4"/>
<rect x="259.80" y="283.80" width="9.70" height="4.70" fill="#DCEAF4"/>
<rect x="269.20" y="283.80" width="9.70" height="4.70" fill="#B4C6E2"/>
<rect x="278.60" y="283.80" width="9.70" height="4.70" fill="#C4D4E8"/>
<rect x="288.00" y="283.80" width="9.70" height="4.70" fill="#E8F4F8"/>
<rect x="297.40" y="283.80" width="9.70" height="4.70" fill="#B4C6E2"/>
<rect x="306.80" y="283.80" width="9.70" height="4.70" fill="#BCCCE6"/>
<rect x="316.20" y="283.80" width="9.70" height="4.70" fill="#E4F0F8"/>
<rect x="325.60" y="283.80" width="19.10" height="4.70" fill="#A4A8D4"/>
<rect x="344.40" y="283.80" width="9.70" height="4.70" fill="#A8B0D8"/>
<rect x="353.80" y="283.80" width="9.70" height="4.70" fill="#9C9CCC"/>
<rect x="363.20" y="283.80" width="9.70" height="4.70" fill="#B8C8E4"/>
<rect x="372.60" y="283.80" width="9.70" height="4.70" fill="#A8B0D8"/>
<rect x="382.00" y="283.80" width="9.70" height="4.70" fill="#9C9CCC"/>
<rect x="391.40" y="283.80" width="9.70" height="4.70" fill="#9060B4"/>
<rect x="400.80" y="283.80" width="9.70" height="4.70" fill="#E8F2F8"/>
<rect x="410.20" y="283.80" width="9.70" height="4.70" fill="#A8B4DA"/>
<rect x="419.60" y="283.80" width="9.70" height="4.70" fill="#9060B4"/>
<rect x="429.00" y="283.80" width="9.70" height="4.70" fill="#DCE8F2"/>
<rect x="438.40" y="283.80" width="9.70" height="4.70" fill="#E0EEF6"/>
<rect x="447.80" y="283.80" width="9.70" height="4.70" fill="#C8D8EC"/>
<rect x="457.20" y="283.80" width="9.40" height="4.70" fill="#B0BEE0"/>
<rect x="259.80" y="290.00" width="9.70" height="4.50" fill="#6CC4AC"/>
<rect x="269.20" y="290.00" width="9.70" height="4.50" fill="#C0E8E4"/>
<rect x="278.60" y="290.00" width="9.70" height="4.50" fill="#C8ECE8"/>
<rect x="288.00" y="290.00" width="9.70" height="4.50" fill="#A4DCD4"/>
<rect x="297.40" y="290.00" width="9.70" height="4.50" fill="#B0E0DC"/>
<rect x="306.80" y="290.00" width="9.70" height="4.50" fill="#58B898"/>
<rect x="316.20" y="290.00" width="9.70" height="4.50" fill="#DCF4F4"/>
<rect x="325.60" y="290.00" width="9.70" height="4.50" fill="#7CCCB8"/>
<rect x="335.00" y="290.00" width="9.70" height="4.50" fill="#8CD0C0"/>
<rect x="344.40" y="290.00" width="9.70" height="4.50" fill="#3CA474"/>
<rect x="353.80" y="290.00" width="9.70" height="4.50" fill="#C0E8E4"/>
<rect x="363.20" y="290.00" width="9.70" height="4.50" fill="#B8E4E0"/>
<rect x="372.60" y="290.00" width="9.70" height="4.50" fill="#4CB08C"/>
<rect x="382.00" y="290.00" width="19.10" height="4.50" fill="#38A070"/>
<rect x="400.80" y="290.00" width="9.70" height="4.50" fill="#E8F8F8"/>
<rect x="410.20" y="290.00" width="9.70" height="4.50" fill="#8CD4C4"/>
<rect x="419.60" y="290.00" width="9.70" height="4.50" fill="#48AC84"/>
<rect x="429.00" y="290.00" width="9.70" height="4.50" fill="#D8F2F2"/>
<rect x="438.40" y="290.00" width="9.70" height="4.50" fill="#84D0BC"/>
<rect x="447.80" y="290.00" width="9.70" height="4.50" fill="#D8F2F2"/>
<rect x="457.20" y="290.00" width="9.40" height="4.50" fill="#98D8CC"/>
<rect x="259.80" y="295.70" width="66.10" height="5.00" fill="#FF4A0C"/>
<rect x="325.60" y="295.70" width="9.70" height="5.00" fill="#F2F20A"/>
<rect x="335.00" y="295.70" width="9.70" height="5.00" fill="#FF4A0C"/>
<rect x="344.40" y="295.70" width="9.70" height="5.00" fill="#F2F20A"/>
<rect x="353.80" y="295.70" width="9.70" height="5.00" fill="#FF4A0C"/>
<rect x="363.20" y="295.70" width="9.70" height="5.00" fill="#F2F20A"/>
<rect x="372.60" y="295.70" width="19.10" height="5.00" fill="#FF4A0C"/>
<rect x="391.40" y="295.70" width="9.70" height="5.00" fill="#F2F20A"/>
<rect x="400.80" y="295.70" width="19.10" height="5.00" fill="#FF4A0C"/>
<rect x="419.60" y="295.70" width="9.70" height="5.00" fill="#F2F20A"/>
<rect x="429.00" y="295.70" width="9.70" height="5.00" fill="#FF4A0C"/>
<rect x="438.40" y="295.70" width="9.70" height="5.00" fill="#F2F20A"/>
<rect x="447.80" y="295.70" width="9.70" height="5.00" fill="#FF4A0C"/>
<rect x="457.20" y="295.70" width="9.40" height="5.00" fill="#F2F20A"/>
<rect x="259.80" y="301.80" width="84.90" height="4.90" fill="#E8B80A"/>
<rect x="344.40" y="301.80" width="9.70" height="4.90" fill="#0CB4BC"/>
<rect x="353.80" y="301.80" width="37.90" height="4.90" fill="#E8B80A"/>
<rect x="391.40" y="301.80" width="9.70" height="4.90" fill="#0CB4BC"/>
<rect x="400.80" y="301.80" width="19.10" height="4.90" fill="#E8B80A"/>
<rect x="419.60" y="301.80" width="9.70" height="4.90" fill="#0CB4BC"/>
<rect x="429.00" y="301.80" width="9.70" height="4.90" fill="#E8B80A"/>
<rect x="438.40" y="301.80" width="9.70" height="4.90" fill="#0CB4BC"/>
<rect x="447.80" y="301.80" width="9.70" height="4.90" fill="#E8B80A"/>
<rect x="457.20" y="301.80" width="9.40" height="4.90" fill="#0CB4BC"/>
<rect x="259.80" y="307.80" width="66.10" height="4.80" fill="#CC2626"/>
<rect x="325.60" y="307.80" width="103.70" height="4.80" fill="#3A5CCC"/>
<rect x="429.00" y="307.80" width="9.70" height="4.80" fill="#CC2626"/>
<rect x="438.40" y="307.80" width="28.20" height="4.80" fill="#3A5CCC"/>
<rect x="259.80" y="313.50" width="9.70" height="7.34" fill="#FCACAC"/>
<rect x="269.20" y="313.50" width="9.70" height="7.34" fill="#FDDCDC"/>
<rect x="278.60" y="313.50" width="9.70" height="7.34" fill="#9880C4"/>
<rect x="288.00" y="313.50" width="9.70" height="7.34" fill="#F87070"/>
<rect x="297.40" y="313.50" width="9.70" height="7.34" fill="#C0B4DC"/>
<rect x="306.80" y="313.50" width="9.70" height="7.34" fill="#ECE8F4"/>
<rect x="316.20" y="313.50" width="9.70" height="7.34" fill="#5020A0"/>
<rect x="325.60" y="313.50" width="9.70" height="7.34" fill="#FCACAC"/>
<rect x="335.00" y="313.50" width="19.10" height="7.34" fill="#FDDCDC"/>
<rect x="353.80" y="313.50" width="9.70" height="7.34" fill="#FCACAC"/>
<rect x="363.20" y="313.50" width="9.70" height="7.34" fill="#ECE8F4"/>
<rect x="372.60" y="313.50" width="9.70" height="7.34" fill="#FDDCDC"/>
<rect x="382.00" y="313.50" width="9.70" height="7.34" fill="#FCACAC"/>
<rect x="391.40" y="313.50" width="9.70" height="7.34" fill="#F87070"/>
<rect x="400.80" y="313.50" width="9.70" height="7.34" fill="#7050B0"/>
<rect x="410.20" y="313.50" width="9.70" height="7.34" fill="#FDDCDC"/>
<rect x="419.60" y="313.50" width="9.70" height="7.34" fill="#F83434"/>
<rect x="429.00" y="313.50" width="19.10" height="7.34" fill="#9880C4"/>
<rect x="447.80" y="313.50" width="9.70" height="7.34" fill="#ECE8F4"/>
<rect x="457.20" y="313.50" width="9.40" height="7.34" fill="#FDDCDC"/>
<rect x="259.80" y="320.54" width="19.10" height="7.34" fill="#ECE8F4"/>
<rect x="278.60" y="320.54" width="9.70" height="7.34" fill="#9880C4"/>
<rect x="288.00" y="320.54" width="9.70" height="7.34" fill="#FDDCDC"/>
<rect x="297.40" y="320.54" width="9.70" height="7.34" fill="#7050B0"/>
<rect x="306.80" y="320.54" width="9.70" height="7.34" fill="#ECE8F4"/>
<rect x="316.20" y="320.54" width="9.70" height="7.34" fill="#9880C4"/>
<rect x="325.60" y="320.54" width="9.70" height="7.34" fill="#ECE8F4"/>
<rect x="335.00" y="320.54" width="9.70" height="7.34" fill="#FDDCDC"/>
<rect x="344.40" y="320.54" width="19.10" height="7.34" fill="#FCACAC"/>
<rect x="363.20" y="320.54" width="9.70" height="7.34" fill="#ECE8F4"/>
<rect x="372.60" y="320.54" width="9.70" height="7.34" fill="#FDDCDC"/>
<rect x="382.00" y="320.54" width="9.70" height="7.34" fill="#F87070"/>
<rect x="391.40" y="320.54" width="9.70" height="7.34" fill="#FF0000"/>
<rect x="400.80" y="320.54" width="9.70" height="7.34" fill="#9880C4"/>
<rect x="410.20" y="320.54" width="9.70" height="7.34" fill="#C0B4DC"/>
<rect x="419.60" y="320.54" width="9.70" height="7.34" fill="#FF0000"/>
<rect x="429.00" y="320.54" width="9.70" height="7.34" fill="#9880C4"/>
<rect x="438.40" y="320.54" width="9.70" height="7.34" fill="#C0B4DC"/>
<rect x="447.80" y="320.54" width="9.70" height="7.34" fill="#ECE8F4"/>
<rect x="457.20" y="320.54" width="9.40" height="7.34" fill="#FCACAC"/>
<rect x="259.80" y="327.58" width="9.70" height="7.34" fill="#F87070"/>
<rect x="269.20" y="327.58" width="9.70" height="7.34" fill="#ECE8F4"/>
<rect x="278.60" y="327.58" width="9.70" height="7.34" fill="#7050B0"/>
<rect x="288.00" y="327.58" width="9.70" height="7.34" fill="#FF0000"/>
<rect x="297.40" y="327.58" width="9.70" height="7.34" fill="#ECE8F4"/>
<rect x="306.80" y="327.58" width="9.70" height="7.34" fill="#C0B4DC"/>
<rect x="316.20" y="327.58" width="9.70" height="7.34" fill="#9880C4"/>
<rect x="325.60" y="327.58" width="28.50" height="7.34" fill="#FDDCDC"/>
<rect x="353.80" y="327.58" width="9.70" height="7.34" fill="#FCACAC"/>
<rect x="363.20" y="327.58" width="19.10" height="7.34" fill="#FDDCDC"/>
<rect x="382.00" y="327.58" width="9.70" height="7.34" fill="#FCACAC"/>
<rect x="391.40" y="327.58" width="9.70" height="7.34" fill="#F87070"/>
<rect x="400.80" y="327.58" width="9.70" height="7.34" fill="#7050B0"/>
<rect x="410.20" y="327.58" width="9.70" height="7.34" fill="#FDDCDC"/>
<rect x="419.60" y="327.58" width="9.70" height="7.34" fill="#F87070"/>
<rect x="429.00" y="327.58" width="9.70" height="7.34" fill="#7050B0"/>
<rect x="438.40" y="327.58" width="9.70" height="7.34" fill="#C0B4DC"/>
<rect x="447.80" y="327.58" width="9.70" height="7.34" fill="#ECE8F4"/>
<rect x="457.20" y="327.58" width="9.40" height="7.34" fill="#FDDCDC"/>
<rect x="259.80" y="334.62" width="9.70" height="7.34" fill="#F87070"/>
<rect x="269.20" y="334.62" width="9.70" height="7.34" fill="#FCACAC"/>
<rect x="278.60" y="334.62" width="9.70" height="7.34" fill="#7050B0"/>
<rect x="288.00" y="334.62" width="9.70" height="7.34" fill="#F83434"/>
<rect x="297.40" y="334.62" width="9.70" height="7.34" fill="#F87070"/>
<rect x="306.80" y="334.62" width="9.70" height="7.34" fill="#ECE8F4"/>
<rect x="316.20" y="334.62" width="9.70" height="7.34" fill="#7050B0"/>
<rect x="325.60" y="334.62" width="9.70" height="7.34" fill="#ECE8F4"/>
<rect x="335.00" y="334.62" width="9.70" height="7.34" fill="#F87070"/>
<rect x="344.40" y="334.62" width="9.70" height="7.34" fill="#FDDCDC"/>
<rect x="353.80" y="334.62" width="28.50" height="7.34" fill="#ECE8F4"/>
<rect x="382.00" y="334.62" width="19.10" height="7.34" fill="#FCACAC"/>
<rect x="400.80" y="334.62" width="9.70" height="7.34" fill="#C0B4DC"/>
<rect x="410.20" y="334.62" width="9.70" height="7.34" fill="#FDDCDC"/>
<rect x="419.60" y="334.62" width="9.70" height="7.34" fill="#F87070"/>
<rect x="429.00" y="334.62" width="19.10" height="7.34" fill="#9880C4"/>
<rect x="447.80" y="334.62" width="9.70" height="7.34" fill="#ECE8F4"/>
<rect x="457.20" y="334.62" width="9.40" height="7.34" fill="#C0B4DC"/>
<rect x="259.80" y="341.66" width="9.70" height="7.34" fill="#FF0000"/>
<rect x="269.20" y="341.66" width="9.70" height="7.34" fill="#FDDCDC"/>
<rect x="278.60" y="341.66" width="9.70" height="7.34" fill="#9880C4"/>
<rect x="288.00" y="341.66" width="9.70" height="7.34" fill="#FF0000"/>
<rect x="297.40" y="341.66" width="9.70" height="7.34" fill="#FCACAC"/>
<rect x="306.80" y="341.66" width="9.70" height="7.34" fill="#ECE8F4"/>
<rect x="316.20" y="341.66" width="9.70" height="7.34" fill="#C0B4DC"/>
<rect x="325.60" y="341.66" width="9.70" height="7.34" fill="#ECE8F4"/>
<rect x="335.00" y="341.66" width="9.70" height="7.34" fill="#FDDCDC"/>
<rect x="344.40" y="341.66" width="9.70" height="7.34" fill="#FCACAC"/>
<rect x="353.80" y="341.66" width="9.70" height="7.34" fill="#ECE8F4"/>
<rect x="363.20" y="341.66" width="9.70" height="7.34" fill="#C0B4DC"/>
<rect x="372.60" y="341.66" width="19.10" height="7.34" fill="#ECE8F4"/>
<rect x="391.40" y="341.66" width="9.70" height="7.34" fill="#F87070"/>
<rect x="400.80" y="341.66" width="9.70" height="7.34" fill="#9880C4"/>
<rect x="410.20" y="341.66" width="9.70" height="7.34" fill="#C0B4DC"/>
<rect x="419.60" y="341.66" width="9.70" height="7.34" fill="#F87070"/>
<rect x="429.00" y="341.66" width="9.70" height="7.34" fill="#9880C4"/>
<rect x="438.40" y="341.66" width="9.70" height="7.34" fill="#ECE8F4"/>
<rect x="447.80" y="341.66" width="9.70" height="7.34" fill="#C0B4DC"/>
<rect x="457.20" y="341.66" width="9.40" height="7.34" fill="#ECE8F4"/>
<rect x="259.80" y="348.70" width="9.70" height="7.34" fill="#FDDCDC"/>
<rect x="269.20" y="348.70" width="19.10" height="7.34" fill="#C0B4DC"/>
<rect x="288.00" y="348.70" width="9.70" height="7.34" fill="#FCACAC"/>
<rect x="297.40" y="348.70" width="9.70" height="7.34" fill="#ECE8F4"/>
<rect x="306.80" y="348.70" width="9.70" height="7.34" fill="#FDDCDC"/>
<rect x="316.20" y="348.70" width="9.70" height="7.34" fill="#7050B0"/>
<rect x="325.60" y="348.70" width="9.70" height="7.34" fill="#FDDCDC"/>
<rect x="335.00" y="348.70" width="19.10" height="7.34" fill="#FCACAC"/>
<rect x="353.80" y="348.70" width="9.70" height="7.34" fill="#FDDCDC"/>
<rect x="363.20" y="348.70" width="9.70" height="7.34" fill="#C0B4DC"/>
<rect x="372.60" y="348.70" width="9.70" height="7.34" fill="#FDDCDC"/>
<rect x="382.00" y="348.70" width="9.70" height="7.34" fill="#FCACAC"/>
<rect x="391.40" y="348.70" width="9.70" height="7.34" fill="#F83434"/>
<rect x="400.80" y="348.70" width="9.70" height="7.34" fill="#9880C4"/>
<rect x="410.20" y="348.70" width="9.70" height="7.34" fill="#FDDCDC"/>
<rect x="419.60" y="348.70" width="9.70" height="7.34" fill="#FF0000"/>
<rect x="429.00" y="348.70" width="19.10" height="7.34" fill="#9880C4"/>
<rect x="447.80" y="348.70" width="9.70" height="7.34" fill="#C0B4DC"/>
<rect x="457.20" y="348.70" width="9.40" height="7.34" fill="#ECE8F4"/>
<rect x="259.80" y="355.74" width="9.70" height="7.34" fill="#F83434"/>
<rect x="269.20" y="355.74" width="19.10" height="7.34" fill="#ECE8F4"/>
<rect x="288.00" y="355.74" width="9.70" height="7.34" fill="#FDDCDC"/>
<rect x="297.40" y="355.74" width="19.10" height="7.34" fill="#C0B4DC"/>
<rect x="316.20" y="355.74" width="9.70" height="7.34" fill="#9880C4"/>
<rect x="325.60" y="355.74" width="9.70" height="7.34" fill="#F87070"/>
<rect x="335.00" y="355.74" width="19.10" height="7.34" fill="#FCACAC"/>
<rect x="353.80" y="355.74" width="19.10" height="7.34" fill="#FDDCDC"/>
<rect x="372.60" y="355.74" width="9.70" height="7.34" fill="#FCACAC"/>
<rect x="382.00" y="355.74" width="19.10" height="7.34" fill="#FDDCDC"/>
<rect x="400.80" y="355.74" width="9.70" height="7.34" fill="#5020A0"/>
<rect x="410.20" y="355.74" width="9.70" height="7.34" fill="#FDDCDC"/>
<rect x="419.60" y="355.74" width="9.70" height="7.34" fill="#FCACAC"/>
<rect x="429.00" y="355.74" width="9.70" height="7.34" fill="#5020A0"/>
<rect x="438.40" y="355.74" width="9.70" height="7.34" fill="#9880C4"/>
<rect x="447.80" y="355.74" width="9.70" height="7.34" fill="#ECE8F4"/>
<rect x="457.20" y="355.74" width="9.40" height="7.34" fill="#FCACAC"/>
<rect x="259.80" y="362.78" width="9.70" height="7.34" fill="#FF0000"/>
<rect x="269.20" y="362.78" width="9.70" height="7.34" fill="#9880C4"/>
<rect x="278.60" y="362.78" width="9.70" height="7.34" fill="#ECE8F4"/>
<rect x="288.00" y="362.78" width="9.70" height="7.34" fill="#F83434"/>
<rect x="297.40" y="362.78" width="9.70" height="7.34" fill="#C0B4DC"/>
<rect x="306.80" y="362.78" width="9.70" height="7.34" fill="#FDDCDC"/>
<rect x="316.20" y="362.78" width="9.70" height="7.34" fill="#9880C4"/>
<rect x="325.60" y="362.78" width="19.10" height="7.34" fill="#ECE8F4"/>
<rect x="344.40" y="362.78" width="9.70" height="7.34" fill="#FCACAC"/>
<rect x="353.80" y="362.78" width="9.70" height="7.34" fill="#C0B4DC"/>
<rect x="363.20" y="362.78" width="9.70" height="7.34" fill="#ECE8F4"/>
<rect x="372.60" y="362.78" width="9.70" height="7.34" fill="#F87070"/>
<rect x="382.00" y="362.78" width="9.70" height="7.34" fill="#FCACAC"/>
<rect x="391.40" y="362.78" width="9.70" height="7.34" fill="#ECE8F4"/>
<rect x="400.80" y="362.78" width="9.70" height="7.34" fill="#7050B0"/>
<rect x="410.20" y="362.78" width="9.70" height="7.34" fill="#FCACAC"/>
<rect x="419.60" y="362.78" width="9.70" height="7.34" fill="#ECE8F4"/>
<rect x="429.00" y="362.78" width="19.10" height="7.34" fill="#C0B4DC"/>
<rect x="447.80" y="362.78" width="9.70" height="7.34" fill="#ECE8F4"/>
<rect x="457.20" y="362.78" width="9.40" height="7.34" fill="#FCACAC"/>
<rect x="259.80" y="369.82" width="9.70" height="7.34" fill="#F83434"/>
<rect x="269.20" y="369.82" width="9.70" height="7.34" fill="#7050B0"/>
<rect x="278.60" y="369.82" width="9.70" height="7.34" fill="#9880C4"/>
<rect x="288.00" y="369.82" width="9.70" height="7.34" fill="#F83434"/>
<rect x="297.40" y="369.82" width="19.10" height="7.34" fill="#FDDCDC"/>
<rect x="316.20" y="369.82" width="28.50" height="7.34" fill="#ECE8F4"/>
<rect x="344.40" y="369.82" width="9.70" height="7.34" fill="#FCACAC"/>
<rect x="353.80" y="369.82" width="19.10" height="7.34" fill="#ECE8F4"/>
<rect x="372.60" y="369.82" width="19.10" height="7.34" fill="#F87070"/>
<rect x="391.40" y="369.82" width="9.70" height="7.34" fill="#ECE8F4"/>
<rect x="400.80" y="369.82" width="9.70" height="7.34" fill="#7050B0"/>
<rect x="410.20" y="369.82" width="19.10" height="7.34" fill="#ECE8F4"/>
<rect x="429.00" y="369.82" width="9.70" height="7.34" fill="#9880C4"/>
<rect x="438.40" y="369.82" width="9.70" height="7.34" fill="#FCACAC"/>
<rect x="447.80" y="369.82" width="9.70" height="7.34" fill="#FDDCDC"/>
<rect x="457.20" y="369.82" width="9.40" height="7.34" fill="#ECE8F4"/>
<rect x="259.80" y="376.86" width="19.10" height="7.04" fill="#FDDCDC"/>
<rect x="278.60" y="376.86" width="9.70" height="7.04" fill="#C0B4DC"/>
<rect x="288.00" y="376.86" width="9.70" height="7.04" fill="#ECE8F4"/>
<rect x="297.40" y="376.86" width="9.70" height="7.04" fill="#C0B4DC"/>
<rect x="306.80" y="376.86" width="9.70" height="7.04" fill="#F87070"/>
<rect x="316.20" y="376.86" width="9.70" height="7.04" fill="#9880C4"/>
<rect x="325.60" y="376.86" width="19.10" height="7.04" fill="#FDDCDC"/>
<rect x="344.40" y="376.86" width="9.70" height="7.04" fill="#F87070"/>
<rect x="353.80" y="376.86" width="9.70" height="7.04" fill="#9880C4"/>
<rect x="363.20" y="376.86" width="9.70" height="7.04" fill="#C0B4DC"/>
<rect x="372.60" y="376.86" width="9.70" height="7.04" fill="#F87070"/>
<rect x="382.00" y="376.86" width="19.10" height="7.04" fill="#F83434"/>
<rect x="400.80" y="376.86" width="9.70" height="7.04" fill="#7050B0"/>
<rect x="410.20" y="376.86" width="9.70" height="7.04" fill="#FDDCDC"/>
<rect x="419.60" y="376.86" width="9.70" height="7.04" fill="#FCACAC"/>
<rect x="429.00" y="376.86" width="9.70" height="7.04" fill="#C0B4DC"/>
<rect x="438.40" y="376.86" width="9.70" height="7.04" fill="#FCACAC"/>
<rect x="447.80" y="376.86" width="9.70" height="7.04" fill="#9880C4"/>
<rect x="457.20" y="376.86" width="9.40" height="7.04" fill="#FDDCDC"/>
<text x="468.90" y="270.90" font-size="5.0" font-weight="bold" fill="#111111" text-anchor="start" stroke="#111111" stroke-width="0.22">BCG</text>
<text x="468.90" y="276.40" font-size="5.0" font-weight="bold" fill="#111111" text-anchor="start" stroke="#111111" stroke-width="0.22">Progression score</text>
<text x="468.90" y="282.25" font-size="5.0" font-weight="bold" fill="#111111" text-anchor="start" stroke="#111111" stroke-width="0.22">Late cell cycle</text>
<text x="468.90" y="288.05" font-size="5.0" font-weight="bold" fill="#111111" text-anchor="start" stroke="#111111" stroke-width="0.22">ImmuneScore</text>
<text x="468.90" y="294.15" font-size="5.0" font-weight="bold" fill="#111111" text-anchor="start" stroke="#111111" stroke-width="0.22">StromalScore</text>
<text x="468.90" y="300.10" font-size="5.0" font-weight="bold" fill="#111111" text-anchor="start" stroke="#111111" stroke-width="0.22">Success</text>
<text x="468.90" y="306.15" font-size="5.0" font-weight="bold" fill="#111111" text-anchor="start" stroke="#111111" stroke-width="0.22">Response</text>
<text x="468.90" y="312.10" font-size="5.0" font-weight="bold" fill="#111111" text-anchor="start" stroke="#111111" stroke-width="0.22">Progression</text>
<text x="469.00" y="319.20" font-size="5.0" font-weight="bold" fill="#111111" text-anchor="start" stroke="#111111" stroke-width="0.22">T cells</text>
<text x="469.00" y="326.40" font-size="5.0" font-weight="bold" fill="#111111" text-anchor="start" stroke="#111111" stroke-width="0.22">CD8 T cells</text>
<text x="469.00" y="333.60" font-size="5.0" font-weight="bold" fill="#111111" text-anchor="start" stroke="#111111" stroke-width="0.22">Cytotoxic lymphocytes</text>
<text x="469.00" y="340.80" font-size="5.0" font-weight="bold" fill="#111111" text-anchor="start" stroke="#111111" stroke-width="0.22">B lineage</text>
<text x="469.00" y="348.00" font-size="5.0" font-weight="bold" fill="#111111" text-anchor="start" stroke="#111111" stroke-width="0.22">NK cells</text>
<text x="469.00" y="355.20" font-size="5.0" font-weight="bold" fill="#111111" text-anchor="start" stroke="#111111" stroke-width="0.22">Monocytic lineage</text>
<text x="469.00" y="362.40" font-size="5.0" font-weight="bold" fill="#111111" text-anchor="start" stroke="#111111" stroke-width="0.22">Myeloid dendritic cells</text>
<text x="469.00" y="369.60" font-size="5.0" font-weight="bold" fill="#111111" text-anchor="start" stroke="#111111" stroke-width="0.22">Neutrophils</text>
<text x="469.00" y="376.80" font-size="5.0" font-weight="bold" fill="#111111" text-anchor="start" stroke="#111111" stroke-width="0.22">Endothelial cells</text>
<text x="469.00" y="384.00" font-size="5.0" font-weight="bold" fill="#111111" text-anchor="start" stroke="#111111" stroke-width="0.22">Fibroblasts</text>
<rect x="524.50" y="274.20" width="6.60" height="9.81" fill="#FF0000"/>
<rect x="524.50" y="283.71" width="6.60" height="9.81" fill="#F83434"/>
<rect x="524.50" y="293.22" width="6.60" height="9.81" fill="#F87070"/>
<rect x="524.50" y="302.73" width="6.60" height="9.81" fill="#FCACAC"/>
<rect x="524.50" y="312.24" width="6.60" height="9.81" fill="#FDDCDC"/>
<rect x="524.50" y="321.75" width="6.60" height="9.81" fill="#ECE8F4"/>
<rect x="524.50" y="331.26" width="6.60" height="9.81" fill="#C0B4DC"/>
<rect x="524.50" y="340.77" width="6.60" height="9.81" fill="#9880C4"/>
<rect x="524.50" y="350.28" width="6.60" height="9.81" fill="#7050B0"/>
<rect x="524.50" y="359.79" width="6.60" height="9.51" fill="#5020A0"/>
<text x="533.60" y="282.20" font-size="7.6" font-weight="normal" fill="#111111" text-anchor="start">2</text>
<text x="533.60" y="302.40" font-size="7.6" font-weight="normal" fill="#111111" text-anchor="start">1</text>
<text x="533.60" y="325.40" font-size="7.6" font-weight="normal" fill="#111111" text-anchor="start">0</text>
<text x="533.60" y="348.00" font-size="7.6" font-weight="normal" fill="#111111" text-anchor="start">−1</text>
<text x="533.60" y="369.40" font-size="7.6" font-weight="normal" fill="#111111" text-anchor="start">−2</text>
<text x="34.20" y="396.40" font-size="6.1" font-weight="bold" fill="#111111" text-anchor="start" stroke="#111111" stroke-width="0.18">BCG</text>
<rect x="34.20" y="397.70" width="6.00" height="6.00" fill="#FFA20A"/>
<text x="41.80" y="402.90" font-size="6.1" font-weight="bold" fill="#111111" text-anchor="start" stroke="#111111" stroke-width="0.18">Pre−treatment</text>
<rect x="34.20" y="403.70" width="6.00" height="6.00" fill="#1E8A1E"/>
<text x="41.80" y="408.90" font-size="6.1" font-weight="bold" fill="#111111" text-anchor="start" stroke="#111111" stroke-width="0.18">Post−treatment</text>
<text x="91.20" y="395.90" font-size="6.3" font-weight="bold" fill="#111111" text-anchor="start" stroke="#111111" stroke-width="0.18">Response</text>
<rect x="91.20" y="398.50" width="7.00" height="7.30" fill="#0CB4BC"/>
<text x="99.60" y="404.42" font-size="6.3" font-weight="bold" fill="#111111" text-anchor="start" stroke="#111111" stroke-width="0.18">Responsive</text>
<rect x="91.20" y="405.80" width="7.00" height="7.30" fill="#E8B80A"/>
<text x="99.60" y="411.72" font-size="6.3" font-weight="bold" fill="#111111" text-anchor="start" stroke="#111111" stroke-width="0.18">Unresponsive</text>
<text x="34.20" y="423.60" font-size="6.3" font-weight="bold" fill="#111111" text-anchor="start" stroke="#111111" stroke-width="0.18">Success</text>
<rect x="34.20" y="424.90" width="7.60" height="7.10" fill="#F2F20A"/>
<text x="43.60" y="430.72" font-size="6.3" font-weight="bold" fill="#111111" text-anchor="start" stroke="#111111" stroke-width="0.18">Success</text>
<rect x="34.20" y="432.00" width="7.60" height="7.10" fill="#FF4A0C"/>
<text x="43.60" y="437.82" font-size="6.3" font-weight="bold" fill="#111111" text-anchor="start" stroke="#111111" stroke-width="0.18">Fail</text>
<text x="91.20" y="424.20" font-size="6.3" font-weight="bold" fill="#111111" text-anchor="start" stroke="#111111" stroke-width="0.18">Progression</text>
<rect x="91.20" y="425.80" width="7.00" height="7.10" fill="#3A5CCC"/>
<text x="99.60" y="431.62" font-size="6.3" font-weight="bold" fill="#111111" text-anchor="start" stroke="#111111" stroke-width="0.18">Stable</text>
<rect x="91.20" y="432.90" width="7.00" height="7.10" fill="#CC2626"/>
<text x="99.60" y="438.72" font-size="6.3" font-weight="bold" fill="#111111" text-anchor="start" stroke="#111111" stroke-width="0.18">Progression</text>
<text x="146.90" y="395.80" font-size="6.05" font-weight="bold" fill="#111111" text-anchor="start" stroke="#111111" stroke-width="0.18">Progression score</text>
<rect x="146.40" y="398.60" width="7.20" height="7.65" fill="#2E9E50"/>
<rect x="146.40" y="405.95" width="7.20" height="7.65" fill="#78C47C"/>
<rect x="146.40" y="413.30" width="7.20" height="7.65" fill="#B8E0B0"/>
<rect x="146.40" y="420.65" width="7.20" height="7.35" fill="#E8F4E0"/>
<text x="155.00" y="404.10" font-size="4.9" font-weight="bold" fill="#111111" text-anchor="start" stroke="#111111" stroke-width="0.22">5</text>
<text x="155.00" y="426.30" font-size="4.9" font-weight="bold" fill="#111111" text-anchor="start" stroke="#111111" stroke-width="0.22">2</text>
<text x="205.70" y="395.80" font-size="6.05" font-weight="bold" fill="#111111" text-anchor="start" stroke="#111111" stroke-width="0.18">Late cell cycle</text>
<rect x="205.20" y="398.60" width="7.20" height="7.65" fill="#3C94C4"/>
<rect x="205.20" y="405.95" width="7.20" height="7.65" fill="#70C4C0"/>
<rect x="205.20" y="413.30" width="7.20" height="7.65" fill="#B0E0C0"/>
<rect x="205.20" y="420.65" width="7.20" height="7.35" fill="#E8F6E4"/>
<text x="214.00" y="404.10" font-size="4.9" font-weight="bold" fill="#111111" text-anchor="start" stroke="#111111" stroke-width="0.22">5</text>
<text x="214.00" y="426.30" font-size="4.9" font-weight="bold" fill="#111111" text-anchor="start" stroke="#111111" stroke-width="0.22">2</text>
<text x="252.30" y="395.80" font-size="6.05" font-weight="bold" fill="#111111" text-anchor="start" stroke="#111111" stroke-width="0.18">StromalScore</text>
<rect x="251.80" y="398.60" width="7.20" height="7.65" fill="#2E9E60"/>
<rect x="251.80" y="405.95" width="7.20" height="7.65" fill="#62BF9E"/>
<rect x="251.80" y="413.30" width="7.20" height="7.65" fill="#ACE1DC"/>
<rect x="251.80" y="420.65" width="7.20" height="7.35" fill="#E2F5F7"/>
<text x="260.40" y="404.10" font-size="4.9" font-weight="bold" fill="#111111" text-anchor="start" stroke="#111111" stroke-width="0.22">700</text>
<text x="260.40" y="426.30" font-size="4.9" font-weight="bold" fill="#111111" text-anchor="start" stroke="#111111" stroke-width="0.22">100</text>
<text x="298.50" y="395.80" font-size="6.05" font-weight="bold" fill="#111111" text-anchor="start" stroke="#111111" stroke-width="0.18">ImmuneScore</text>
<rect x="298.00" y="398.60" width="7.20" height="7.65" fill="#9050B0"/>
<rect x="298.00" y="405.95" width="7.20" height="7.65" fill="#9490C8"/>
<rect x="298.00" y="413.30" width="7.20" height="7.65" fill="#B4C8E4"/>
<rect x="298.00" y="420.65" width="7.20" height="7.35" fill="#E4F2F8"/>
<text x="307.00" y="404.10" font-size="4.9" font-weight="bold" fill="#111111" text-anchor="start" stroke="#111111" stroke-width="0.22">1000</text>
<text x="307.00" y="426.30" font-size="4.9" font-weight="bold" fill="#111111" text-anchor="start" stroke="#111111" stroke-width="0.22">200</text>
</svg>
</body></html>
